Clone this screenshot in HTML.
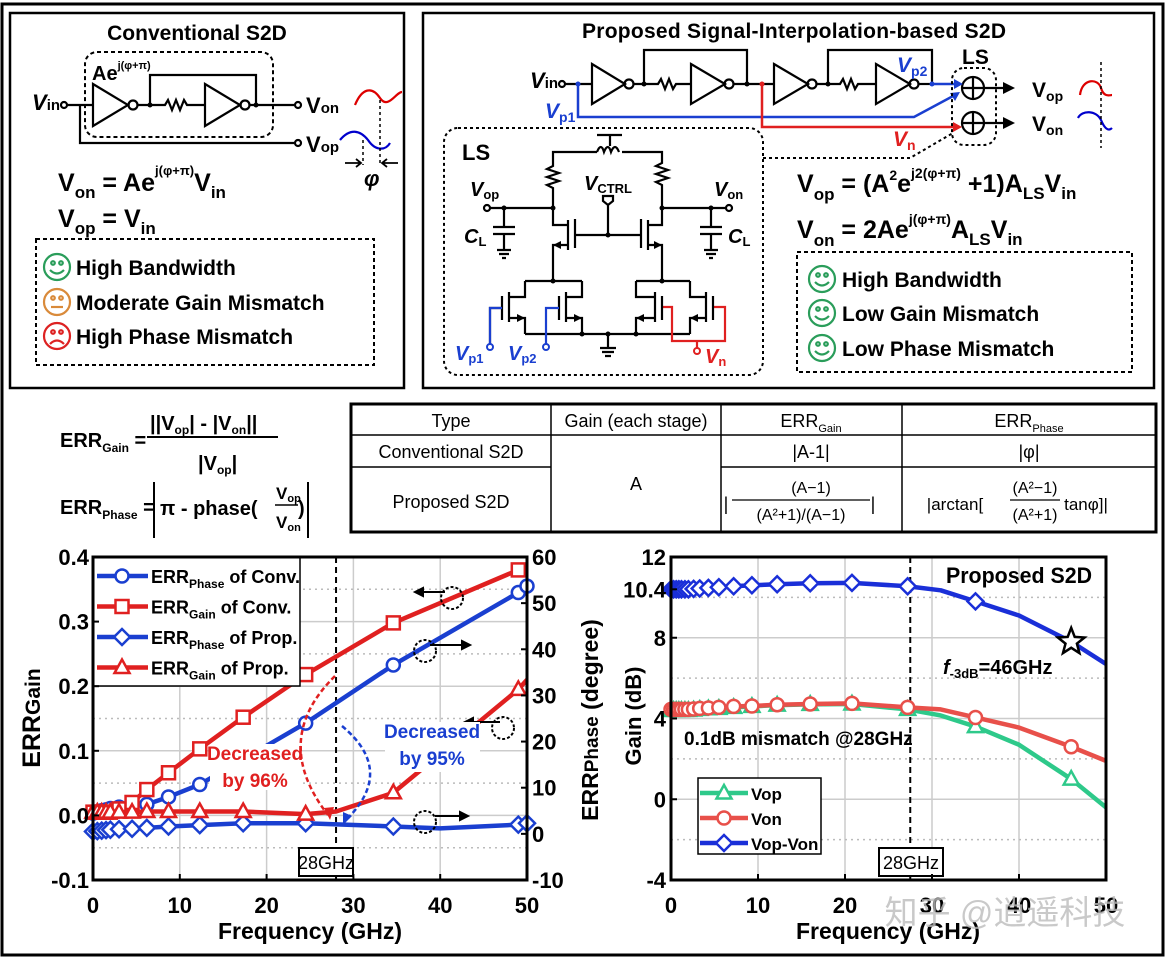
<!DOCTYPE html>
<html><head><meta charset="utf-8"><style>
html,body{margin:0;padding:0;background:#fff}
svg{display:block}
text{font-family:"Liberation Sans","Noto Sans CJK SC",sans-serif;font-weight:bold}
</style></head><body>
<svg id="fig" width="1166" height="961" viewBox="0 0 1166 961">
<rect width="1166" height="961" fill="#fff"/>
<rect x="2" y="4" width="1161" height="951" fill="none" stroke="#000" stroke-width="3"/>

<!-- ================= Conventional S2D ================= -->
<g>
<rect x="10" y="13" width="394" height="375" fill="none" stroke="#000" stroke-width="2.5"/>
<text x="197" y="40" font-size="21" text-anchor="middle">Conventional S2D</text>
<rect x="85" y="52" width="188" height="85" rx="12" fill="none" stroke="#000" stroke-width="2" stroke-dasharray="4,3"/>
<text x="92" y="80" font-size="20">Ae<tspan font-size="11" dy="-11">j(φ+π)</tspan></text>
<text x="32" y="110" font-size="22" font-style="italic">V<tspan font-size="15" font-style="normal">in</tspan></text>
<g fill="none" stroke="#000" stroke-width="2.2">
<circle cx="64" cy="105" r="3"/>
<path d="M67,105 H93 M80,105 V143 H294"/>
<polygon points="93,84 128,105 93,126"/>
<circle cx="133" cy="105" r="4.5"/>
<path d="M138,105 H165 l3,-5 l4,10 l4,-10 l4,10 l4,-10 l3,5 H205"/>
<polygon points="205,84 240,105 205,126"/>
<circle cx="245" cy="105" r="4.5"/>
<path d="M250,105 H294 M150,105 V75 H256 V105"/>
<circle cx="298" cy="105" r="3"/><circle cx="298" cy="143" r="3"/>
</g>
<circle cx="150" cy="105" r="2.5"/><circle cx="256" cy="105" r="2.5"/>
<text x="306" y="113" font-size="22">V<tspan font-size="15">on</tspan></text>
<text x="306" y="152" font-size="22">V<tspan font-size="15">op</tspan></text>
<path d="M355,105 C362,88 372,86 380,98 C388,110 396,92 402,92" fill="none" stroke="#d00" stroke-width="2.2"/>
<path d="M340,140 C350,128 360,130 368,140 C376,152 386,150 390,143" fill="none" stroke="#00c" stroke-width="2.2"/>
<path d="M363,140 V165 M380,100 V165" stroke="#000" stroke-width="1.5" stroke-dasharray="3,3"/>
<path d="M345,163 H360 M356,159 L361,163 L356,167 M398,163 H383 M387,159 L382,163 L387,167" stroke="#000" stroke-width="1.8" fill="none"/>
<text x="364" y="186" font-size="22" font-style="italic">φ</text>
<text x="58" y="191" font-size="25">V<tspan font-size="17" dy="7">on</tspan><tspan dy="-7"> = Ae</tspan><tspan font-size="13" dy="-16">j(φ+π)</tspan><tspan dy="16">V</tspan><tspan font-size="17" dy="7">in</tspan></text>
<text x="58" y="227" font-size="25">V<tspan font-size="17" dy="7">op</tspan><tspan dy="-7"> = V</tspan><tspan font-size="17" dy="7">in</tspan></text>
<rect x="36" y="239" width="338" height="126" fill="none" stroke="#000" stroke-width="2" stroke-dasharray="4,3"/>
<g stroke-width="2.2" fill="none">
<g stroke="#2a9d5a" transform="translate(57,267)"><circle r="13"/><circle cx="-4" cy="-4" r="1.8"/><circle cx="4" cy="-4" r="1.8"/><path d="M-7,3 Q0,10 7,3"/></g>
<g stroke="#d98a3a" transform="translate(57,302)"><circle r="13"/><circle cx="-4" cy="-4" r="1.8"/><circle cx="4" cy="-4" r="1.8"/><path d="M-6,5 H6"/></g>
<g stroke="#d22" transform="translate(57,336)"><circle r="13"/><circle cx="-4" cy="-4" r="1.8"/><circle cx="4" cy="-4" r="1.8"/><path d="M-7,8 Q0,1 7,8"/></g>
</g>
<text x="76" y="275" font-size="21">High Bandwidth</text>
<text x="76" y="310" font-size="21">Moderate Gain Mismatch</text>
<text x="76" y="344" font-size="21">High Phase Mismatch</text>
</g>

<!-- ================= Proposed S2D ================= -->
<g>
<rect x="423" y="13" width="731" height="375" fill="none" stroke="#000" stroke-width="2.5"/>
<text x="794" y="38" font-size="21" text-anchor="middle" textLength="424">Proposed Signal-Interpolation-based S2D</text>
<text x="530" y="88" font-size="22" font-style="italic">V<tspan font-size="15" font-style="normal">in</tspan></text>
<g fill="none" stroke="#000" stroke-width="2.2">
<circle cx="562" cy="84" r="3"/>
<path d="M565,84 H592"/>
<polygon points="592,64 625,84 592,104"/><circle cx="629" cy="84" r="4.5"/>
<path d="M634,84 H658 l3,-5 l4,10 l4,-10 l4,10 l3,-5 H691 M644,84 V50 H747 V84"/>
<polygon points="691,64 725,84 691,104"/><circle cx="729" cy="84" r="4.5"/>
<path d="M734,84 H774"/>
<polygon points="774,64 808,84 774,104"/><circle cx="812" cy="84" r="4.5"/>
<path d="M817,84 H840 l3,-5 l4,10 l4,-10 l4,10 l3,-5 H876 M828,84 V50 H932 V84"/>
<polygon points="876,64 910,84 876,104"/><circle cx="914" cy="84" r="4.5"/>
<path d="M919,84 H930"/>
<circle cx="973" cy="88" r="11"/><path d="M962,88 H984 M973,77 V99"/>
<circle cx="973" cy="123" r="11"/><path d="M962,123 H984 M973,112 V134"/>
<path d="M984,88 H1005 M984,123 H1005"/>
</g>
<path d="M1003,82 L1015,88 L1003,94Z M1003,117 L1015,123 L1003,129Z" fill="#000"/>
<circle cx="644" cy="84" r="2.5"/><circle cx="747" cy="84" r="2.5"/><circle cx="828" cy="84" r="2.5"/>
<path d="M930,84 H958" stroke="#1a3fd0" stroke-width="2.5" fill="none"/>
<path d="M954,79 L963,84 L954,89Z" fill="#1a3fd0"/>
<path d="M578,84 V117 H914 L955,95" stroke="#1a3fd0" stroke-width="2.5" fill="none"/>
<path d="M950,93 L960,92 L955,101Z" fill="#1a3fd0"/>
<circle cx="578" cy="84" r="2.5" fill="#1a3fd0"/><circle cx="932" cy="84" r="2.5" fill="#1a3fd0"/>
<path d="M762,84 V127 H955" stroke="#e02020" stroke-width="2.5" fill="none"/>
<path d="M953,122 L962,127 L953,132Z" fill="#e02020"/>
<circle cx="762" cy="84" r="2.5" fill="#e02020"/>
<text x="545" y="118" font-size="21" font-style="italic" fill="#1a3fd0">V<tspan font-size="14" font-style="normal" dy="4">p1</tspan></text>
<text x="897" y="72" font-size="21" font-style="italic" fill="#1a3fd0">V<tspan font-size="14" font-style="normal" dy="4">p2</tspan></text>
<text x="893" y="146" font-size="21" font-style="italic" fill="#e02020">V<tspan font-size="14" font-style="normal" dy="4">n</tspan></text>
<rect x="952" y="68" width="44" height="77" rx="12" fill="none" stroke="#000" stroke-width="2" stroke-dasharray="3,3"/>
<text x="962" y="64" font-size="21">LS</text>
<text x="1032" y="97" font-size="21">V<tspan font-size="14" dy="4">op</tspan></text>
<text x="1032" y="131" font-size="21">V<tspan font-size="14" dy="4">on</tspan></text>
<path d="M1080,95 C1082,78 1098,78 1101,88 C1104,98 1110,95 1112,95" stroke="#d00" stroke-width="2.2" fill="none"/>
<path d="M1078,118 C1082,110 1096,110 1101,120 C1106,132 1110,130 1112,128" stroke="#00c" stroke-width="2.2" fill="none"/>
<path d="M1101,62 V148" stroke="#000" stroke-width="1.5" stroke-dasharray="3,3"/>

<!-- LS circuit -->
<rect x="444" y="128" width="319" height="247" rx="14" fill="none" stroke="#000" stroke-width="2" stroke-dasharray="3,3"/>
<path d="M763,158 H910 L953,133" stroke="#000" stroke-width="2" stroke-dasharray="3,3" fill="none"/>
<text x="462" y="160" font-size="22">LS</text>
<g fill="none" stroke="#000" stroke-width="2.2">
<path d="M553,208 V188 l-6,-3 l12,-4 l-12,-4 l12,-4 l-12,-4 l6,-3 V152 H597 M622,152 H662 V163 l-6,3 l12,4 l-12,4 l12,4 l-12,4 l6,3 V208"/>
<path d="M597,152 q4,-10 7,0 q4,-10 7,0 q4,-10 8,0 M610,146 V136 M597,135 H622"/>
<circle cx="487" cy="208" r="3"/><circle cx="729" cy="208" r="3"/>
<path d="M490,208 H553 M662,208 H726 M504,208 V227 M493,227 H515 M493,234 H515 M504,234 V250 M497,250 H511 M499,254 H509 M502,258 H506"/>
<path d="M711,208 V227 M700,227 H722 M700,234 H722 M711,234 V250 M704,250 H718 M706,254 H716 M709,258 H713"/>
<path d="M553,208 V225 H568 M568,220 V250 M575,219 V248 M575,235 H641 M641,219 V248 M648,220 V250 M648,225 H662 V208 M568,245 H553 V281 M648,245 H662 V281"/>
<path d="M608,235 V204 M603,196 H613 V201 L608,205 L603,201Z"/>
<path d="M525,281 H582 M525,281 V297 H509 M509,292 V322 M502,296 V320 M502,308 H490 V344 M509,318 H525 V334 M582,281 V297 H566 M566,292 V322 M559,296 V320 M566,318 H582 V334"/>
<path d="M636,281 H690 M636,281 V297 H655 M655,292 V322 M636,334 V318 H655 M690,281 V297 H706 M706,292 V322 M706,318 H690 V334 M525,334 H690 M608,334 V348 M600,348 H616 M602,352 H614 M605,356 H611"/>
</g>
<path d="M553,245 l8,-4 v8z M662,245 l-8,-4 v8z M525,318 l-8,-4 v8z M582,318 l-8,-4 v8z M636,318 l8,-4 v8z M690,318 l8,-4 v8z" fill="#000"/>
<g fill="#000"><circle cx="553" cy="208" r="2.5"/><circle cx="662" cy="208" r="2.5"/><circle cx="504" cy="208" r="2.5"/><circle cx="711" cy="208" r="2.5"/><circle cx="608" cy="235" r="2.5"/><circle cx="553" cy="281" r="2.5"/><circle cx="662" cy="281" r="2.5"/><circle cx="582" cy="334" r="2.5"/><circle cx="608" cy="334" r="2.5"/><circle cx="636" cy="334" r="2.5"/></g>
<path d="M502,308 H490 V344" stroke="#1a3fd0" stroke-width="2.2" fill="none"/>
<path d="M559,308 H546 V344" stroke="#1a3fd0" stroke-width="2.2" fill="none"/>
<circle cx="490" cy="347" r="3" fill="#fff" stroke="#1a3fd0" stroke-width="2"/>
<circle cx="546" cy="347" r="3" fill="#fff" stroke="#1a3fd0" stroke-width="2"/>
<path d="M662,307 H672 V341 H725 V307 H713 M697,341 V348" stroke="#e02020" stroke-width="2.2" fill="none"/>
<path d="M662,296 V320 M713,296 V320" stroke="#000" stroke-width="2.2"/>
<circle cx="697" cy="351" r="3" fill="#fff" stroke="#e02020" stroke-width="2"/>
<text x="470" y="196" font-size="20" font-style="italic">V<tspan font-size="13" font-style="normal" dy="3">op</tspan></text>
<text x="714" y="196" font-size="20" font-style="italic">V<tspan font-size="13" font-style="normal" dy="3">on</tspan></text>
<text x="584" y="190" font-size="20" font-style="italic">V<tspan font-size="13" font-style="normal" dy="3">CTRL</tspan></text>
<text x="464" y="243" font-size="20" font-style="italic">C<tspan font-size="13" font-style="normal" dy="3">L</tspan></text>
<text x="728" y="243" font-size="20" font-style="italic">C<tspan font-size="13" font-style="normal" dy="3">L</tspan></text>
<text x="455" y="360" font-size="20" font-style="italic" fill="#1a3fd0">V<tspan font-size="13" font-style="normal" dy="3">p1</tspan></text>
<text x="508" y="360" font-size="20" font-style="italic" fill="#1a3fd0">V<tspan font-size="13" font-style="normal" dy="3">p2</tspan></text>
<text x="705" y="363" font-size="20" font-style="italic" fill="#e02020">V<tspan font-size="13" font-style="normal" dy="3">n</tspan></text>

<text x="797" y="192" font-size="25">V<tspan font-size="17" dy="8">op</tspan><tspan dy="-8"> = (A</tspan><tspan font-size="14" dy="-12">2</tspan><tspan dy="12">e</tspan><tspan font-size="14" dy="-14">j2(φ+π)</tspan><tspan dy="14"> +1)A</tspan><tspan font-size="17" dy="7">LS</tspan><tspan dy="-7">V</tspan><tspan font-size="17" dy="7">in</tspan></text>
<text x="797" y="238" font-size="25">V<tspan font-size="17" dy="8">on</tspan><tspan dy="-8"> = 2Ae</tspan><tspan font-size="14" dy="-14">j(φ+π)</tspan><tspan dy="14">A</tspan><tspan font-size="17" dy="7">LS</tspan><tspan dy="-7">V</tspan><tspan font-size="17" dy="7">in</tspan></text>
<rect x="797" y="252" width="335" height="120" fill="none" stroke="#000" stroke-width="2" stroke-dasharray="4,3"/>
<g stroke="#2a9d5a" stroke-width="2.2" fill="none">
<g transform="translate(822,279)"><circle r="13"/><circle cx="-4" cy="-4" r="1.8"/><circle cx="4" cy="-4" r="1.8"/><path d="M-7,3 Q0,10 7,3"/></g>
<g transform="translate(822,313)"><circle r="13"/><circle cx="-4" cy="-4" r="1.8"/><circle cx="4" cy="-4" r="1.8"/><path d="M-7,3 Q0,10 7,3"/></g>
<g transform="translate(822,348)"><circle r="13"/><circle cx="-4" cy="-4" r="1.8"/><circle cx="4" cy="-4" r="1.8"/><path d="M-7,3 Q0,10 7,3"/></g>
</g>
<text x="842" y="287" font-size="21">High Bandwidth</text>
<text x="842" y="321" font-size="21">Low Gain Mismatch</text>
<text x="842" y="356" font-size="21">Low Phase Mismatch</text>
</g>

<!-- ================= ERR formulas ================= -->
<g font-size="20">
<text x="60" y="447">ERR<tspan font-size="12" dy="5">Gain</tspan><tspan dy="-5"> =</tspan></text>
<text x="150" y="430">||V<tspan font-size="12" dy="4">op</tspan><tspan dy="-4">| - |V</tspan><tspan font-size="12" dy="4">on</tspan><tspan dy="-4">||</tspan></text>
<path d="M147,437 H278" stroke="#000" stroke-width="2"/>
<text x="198" y="470">|V<tspan font-size="12" dy="4">op</tspan><tspan dy="-4">|</tspan></text>
<text x="60" y="514">ERR<tspan font-size="12" dy="5">Phase</tspan><tspan dy="-5"> =</tspan></text>
<path d="M154,482 V538 M308,482 V538" stroke="#000" stroke-width="2"/>
<text x="160" y="515">π - phase(</text>
<text x="276" y="499" font-size="17">V<tspan font-size="11" dy="3">op</tspan></text>
<path d="M275,505 H298" stroke="#000" stroke-width="1.5"/>
<text x="276" y="528" font-size="17">V<tspan font-size="11" dy="3">on</tspan></text>
<text x="298" y="515">)</text>
</g>

<!-- ================= Table ================= -->
<g>
<rect x="351" y="404" width="805" height="128" fill="none" stroke="#000" stroke-width="3"/>
<path d="M351,435 H1156 M351,467 H551 M721,467 H1156 M551,404 V532 M721,404 V532 M902,404 V532" stroke="#000" stroke-width="1.5"/>
<g font-size="18" text-anchor="middle">
<text x="451" y="427" style="font-weight:normal">Type</text>
<text x="636" y="427" style="font-weight:normal">Gain (each stage)</text>
<text x="811" y="427" style="font-weight:normal">ERR<tspan font-size="11" dy="5">Gain</tspan></text>
<text x="1029" y="427" style="font-weight:normal">ERR<tspan font-size="11" dy="5">Phase</tspan></text>
<text x="451" y="458" style="font-weight:normal">Conventional S2D</text>
<text x="811" y="458" style="font-weight:normal">|A-1|</text>
<text x="1029" y="458" style="font-weight:normal">|φ|</text>
<text x="451" y="508" style="font-weight:normal">Proposed S2D</text>
<text x="636" y="490" style="font-weight:normal">A</text>
<text x="811" y="493" font-size="16" style="font-weight:normal">(A−1)</text>
<path d="M732,500 H870" stroke="#000" stroke-width="1.2"/>
<text x="726" y="510" style="font-weight:normal">|</text><text x="873" y="510" style="font-weight:normal">|</text>
<text x="801" y="520" font-size="16" style="font-weight:normal">(A²+1)/(A−1)</text>
<text x="955" y="510" font-size="17" style="font-weight:normal">|arctan[</text>
<text x="1035" y="493" font-size="16" style="font-weight:normal">(A²−1)</text>
<path d="M1010,500 H1060" stroke="#000" stroke-width="1.2"/>
<text x="1035" y="520" font-size="16" style="font-weight:normal">(A²+1)</text>
<text x="1086" y="510" font-size="17" style="font-weight:normal">tanφ]|</text>
</g>
</g>

<g id="leftChart"></g>
<g id="rightChart"></g>

<text x="1005" y="924" font-size="33" fill="#bbb" fill-opacity="0.8" text-anchor="middle" style="font-weight:normal">知乎 @逍遥科技</text>
</svg>

<script>
// ---------- Left chart data ----------
const convGainX = [0,0.5,1,1.5,2,3,4.5,6.2,8.7,12.3,17.3,24.5,34.6,49,50];
const convGainY = [0.005,0.005,0.005,0.005,0.005,0.01,0.02,0.04,0.066,0.103,0.152,0.218,0.298,0.38,0.385];
const convPhaseX = [0,0.5,1,1.5,2,3,6.2,8.7,12.3,24.5,34.6,49,50];
const convPhaseDeg = [4.5,4.8,5,5.2,5.5,5.8,6.4,8,10.7,24,36.6,52.3,53.7];
const propGainX = [0,0.5,1,1.5,2,3,4.5,6.2,8.7,12.3,17.3,24.5,28,34.6,49,50];
const propGainY = [0.005,0.005,0.005,0.005,0.005,0.005,0.005,0.006,0.006,0.006,0.006,0.002,0.006,0.035,0.195,0.21];
const propPhaseX = [0,0.5,1,1.5,2,3,4.5,6.2,8.7,12.3,17.3,24.5,34.6,40,49,50];
const propPhaseDeg = [0.5,0.6,0.7,0.8,0.9,1,1.1,1.3,1.6,1.9,2.3,2.3,1.6,1.2,2.0,2.3];
const leftTicks = ["0.4","0.3","0.2","0.1","0.0","-0.1"];
const rightTicks = ["60","50","40","30","20","10","0","-10"];
const xTicks = ["0","10","20","30","40","50"];
// ---------- Right chart data ----------
const gainX = [0,0.3,0.6,0.9,1.2,1.6,2,2.6,3.3,4.3,5.5,7.2,9.3,12.2,16,20.8,27.2,31,35,40,46,50];
const gainVopVon = [10.4,10.4,10.4,10.4,10.4,10.4,10.4,10.42,10.44,10.47,10.5,10.55,10.6,10.65,10.7,10.72,10.55,10.35,9.8,9.1,7.8,6.7];
const gainVon = [4.45,4.45,4.45,4.45,4.45,4.45,4.45,4.47,4.5,4.52,4.55,4.6,4.62,4.68,4.72,4.75,4.55,4.45,4.05,3.55,2.6,1.9];
const gainVop = [4.4,4.4,4.4,4.4,4.4,4.4,4.4,4.42,4.45,4.48,4.5,4.55,4.6,4.66,4.7,4.72,4.45,4.15,3.6,2.7,1.0,-0.4];
const markerSkip = [31,40,50];
const gainTicks = ["12","10.4","8","4","0","-4"];
const gainTickVals = [12,10.4,8,4,0,-4];

const NS = "http://www.w3.org/2000/svg";
function mk(parent, tag, attrs, txt){
  const e = document.createElementNS(NS, tag);
  for (const k in attrs) e.setAttribute(k, attrs[k]);
  if (txt !== undefined) e.textContent = txt;
  parent.appendChild(e);
  return e;
}
function marker(g, kind, x, y, color){
  let e;
  if (kind === "circle") e = mk(g, "circle", {cx:x, cy:y, r:6.5});
  else if (kind === "square") e = mk(g, "rect", {x:x-6.5, y:y-6.5, width:13, height:13});
  else if (kind === "diamond") e = mk(g, "polygon", {points:`${x},${y-8} ${x+8},${y} ${x},${y+8} ${x-8},${y}`});
  else e = mk(g, "polygon", {points:`${x},${y-8} ${x+7.5},${y+5.5} ${x-7.5},${y+5.5}`});
  e.setAttribute("fill", "#fff"); e.setAttribute("stroke", color); e.setAttribute("stroke-width", "2.5");
  
  
  return e;
}
function series(g, xs, ys, xf, yf, color, kind, name, skip){
  const pts = xs.map((v,i)=>xf(v)+","+yf(ys[i])).join(" ");
  const pl = mk(g, "polyline", {points:pts, fill:"none", stroke:color, "stroke-width":4.5, "stroke-linejoin":"round"});
  
  
  xs.forEach((v,i)=>{ if (!(skip||[]).includes(v)) marker(g, kind, xf(v), yf(ys[i]), color); });
}

// ---------- LEFT CHART ----------
(function(){
  const g = document.getElementById("leftChart");
  const L=93, R=527, T=557, B=880;
  const X = v => L + v/50*(R-L);
  const YL = v => T + (0.4 - v)/0.5*(B-T);
  const YR = d => T + (60 - d)/70*(B-T);
  for (let i=1;i<5;i++) mk(g,"line",{x1:X(i*10),x2:X(i*10),y1:T,y2:B,stroke:"#ccc","stroke-width":1.5});
  for (let i=0;i<leftTicks.length;i++){ const v = parseFloat(leftTicks[i]); mk(g,"line",{x1:L,x2:R,y1:YL(v),y2:YL(v),stroke:"#ccc","stroke-width":1.5}); if(v>-0.1) mk(g,"line",{x1:L,x2:R,y1:YL(v-0.05),y2:YL(v-0.05),stroke:"#bbb","stroke-width":1.5,"stroke-dasharray":"2,4"}); }
  mk(g,"line",{x1:X(28),x2:X(28),y1:T,y2:B,stroke:"#000","stroke-width":2,"stroke-dasharray":"6,4"});
  const lab = mk(g,"g",{});
   
  mk(lab,"rect",{x:299,y:848,width:54,height:28,fill:"#fff",stroke:"#000","stroke-width":2});
  mk(lab,"text",{x:326,y:869,"font-size":18,"text-anchor":"middle",style:"font-weight:normal"},"28GHz");
  series(g, convPhaseX, convPhaseDeg, X, YR, "#1a3fd0", "circle", "conv-phase-line");
  series(g, propPhaseX, propPhaseDeg, X, YR, "#1a3fd0", "diamond", "prop-phase-line", [40]);
  series(g, convGainX, convGainY, X, YL, "#e02020", "square", "conv-gain-line", [50]);
  series(g, propGainX, propGainY, X, YL, "#e02020", "triangle", "prop-gain-line", [28,50]);
  const ann = mk(g,"g",{fill:"none",stroke:"#000","stroke-width":2});
   
  [[452,598,445,415],[425,651,430,470],[503,728,500,465],[425,822,435,468]].forEach(a=>{
    mk(ann,"ellipse",{cx:a[0],cy:a[1],rx:11,ry:11,"stroke-dasharray":"3,2"});
    mk(ann,"line",{x1:a[2],x2:a[3],y1:a[1]-6,y2:a[1]-6});
    const d = a[3]>a[2]?1:-1;
    mk(ann,"path",{d:`M${a[3]},${a[1]-6} l${-8*d},-4 v8z`,fill:"#000"});
  });
  mk(g,"path",{d:"M335,676 Q270,740 328,815",fill:"none",stroke:"#e02020","stroke-width":2.5,"stroke-dasharray":"5,3"});
  mk(g,"path",{d:"M324,808 l6,12 l4,-13z",fill:"#e02020"});
  mk(g,"path",{d:"M342,726 Q395,770 348,818",fill:"none",stroke:"#1a3fd0","stroke-width":2.5,"stroke-dasharray":"5,3"});
  mk(g,"path",{d:"M343,812 l0,13 l9,-9z",fill:"#1a3fd0"});
  mk(g,"rect",{x:210,y:744,width:90,height:46,fill:"#fff"});
  mk(g,"rect",{x:385,y:722,width:95,height:50,fill:"#fff"});
  const t1 = mk(g,"text",{x:255,y:760,"font-size":19,"text-anchor":"middle",fill:"#e02020"},"Decreased");
   
  mk(g,"text",{x:255,y:787,"font-size":19,"text-anchor":"middle",fill:"#e02020"},"by 96%");
  const t2 = mk(g,"text",{x:432,y:738,"font-size":19,"text-anchor":"middle",fill:"#1a3fd0"},"Decreased");
   
  mk(g,"text",{x:432,y:765,"font-size":19,"text-anchor":"middle",fill:"#1a3fd0"},"by 95%");
  const lg = mk(g,"g",{});
   
  mk(lg,"rect",{x:L,y:T,width:207,height:129,fill:"#fff",stroke:"#000","stroke-width":1.5});
  const legs = [["circle","#1a3fd0","Phase","of Conv."],["square","#e02020","Gain","of Conv."],["diamond","#1a3fd0","Phase","of Prop."],["triangle","#e02020","Gain","of Prop."]];
  legs.forEach((l,i)=>{
    const y = 576 + i*30.5;
    mk(lg,"line",{x1:97,x2:148,y1:y,y2:y,stroke:l[1],"stroke-width":4.5});
    marker(lg,l[0],122,y,l[1]);
    const t = mk(lg,"text",{x:151,y:y+7,"font-size":18});
     
    t.innerHTML = `ERR<tspan font-size="12" dy="5">${l[2]}</tspan><tspan dy="-5"> ${l[3]}</tspan>`;
  });
  mk(g,"rect",{x:L,y:T,width:R-L,height:B-T,fill:"none",stroke:"#000","stroke-width":3});
  leftTicks.forEach(s=>{ const y=YL(parseFloat(s)); mk(g,"line",{x1:L,x2:L+6,y1:y,y2:y,stroke:"#000","stroke-width":2}); const t=mk(g,"text",{x:L-4,y:y+8,"font-size":22,"text-anchor":"end"},s);  });
  rightTicks.forEach(s=>{ const y=YR(parseFloat(s)); mk(g,"line",{x1:R-6,x2:R,y1:y,y2:y,stroke:"#000","stroke-width":2}); const t=mk(g,"text",{x:R+5,y:y+8,"font-size":22},s);  });
  xTicks.forEach(s=>{ const x=X(parseFloat(s)); mk(g,"line",{x1:x,x2:x,y1:B-6,y2:B,stroke:"#000","stroke-width":2}); const t=mk(g,"text",{x:x,y:B+33,"font-size":22,"text-anchor":"middle"},s);  });
  const xl = mk(g,"text",{x:310,y:939,"font-size":23,"text-anchor":"middle"},"Frequency (GHz)");
   
  const yl = mk(g,"text",{transform:"translate(40,718) rotate(-90)","font-size":25,"text-anchor":"middle"});
   
  yl.innerHTML = 'ERR<tspan font-size="21">Gain</tspan>';
  const y2 = mk(g,"text",{transform:"translate(598,720) rotate(-90)","font-size":23,"text-anchor":"middle"});
   
  y2.innerHTML = 'ERR<tspan font-size="19">Phase</tspan> (degree)';
})();

// ---------- RIGHT CHART ----------
(function(){
  const g = document.getElementById("rightChart");
  const L=671, R=1106, T=557, B=880;
  const X = v => L + v/50*(R-L);
  const Y = v => T + (12 - v)/16*(B-T);
  for (let i=1;i<5;i++) mk(g,"line",{x1:X(i*10),x2:X(i*10),y1:T,y2:B,stroke:"#ccc","stroke-width":1.5});
  [8,4,0].forEach(v=>mk(g,"line",{x1:L,x2:R,y1:Y(v),y2:Y(v),stroke:"#ccc","stroke-width":1.5}));
  [10,6,2,-2].forEach(v=>mk(g,"line",{x1:L,x2:R,y1:Y(v),y2:Y(v),stroke:"#bbb","stroke-width":1.5,"stroke-dasharray":"2,4"}));
  mk(g,"line",{x1:X(27.5),x2:X(27.5),y1:T,y2:B,stroke:"#000","stroke-width":2,"stroke-dasharray":"6,4"});
  const lab = mk(g,"g",{});
   
  mk(lab,"rect",{x:879,y:848,width:64,height:28,fill:"#fff",stroke:"#000","stroke-width":2});
  mk(lab,"text",{x:911,y:869,"font-size":18,"text-anchor":"middle",style:"font-weight:normal"},"28GHz");
  series(g, gainX, gainVop, X, Y, "#2ec98a", "triangle", "vop-line", markerSkip);
  series(g, gainX, gainVon, X, Y, "#e8504a", "circle", "von-line", markerSkip);
  series(g, gainX, gainVopVon, X, Y, "#1a2fd8", "diamond", "vop-von-line", markerSkip.concat([46]));
  const sx = X(46), sy = Y(gainVopVon[gainX.indexOf(46)]);
  let sp = [];
  for (let k=0;k<10;k++){ const r = k%2?6:14; const a = -Math.PI/2 + k*Math.PI/5; sp.push((sx+r*Math.cos(a)).toFixed(1)+","+(sy+r*Math.sin(a)).toFixed(1)); }
  const star = mk(g,"polygon",{points:sp.join(" "),fill:"#fff",stroke:"#000","stroke-width":2.5});
   
  const ft = mk(g,"text",{x:943,y:674,"font-size":20});
   
  ft.innerHTML = '<tspan font-style="italic">f</tspan><tspan font-size="13" dy="4">-3dB</tspan><tspan dy="-4">=46GHz</tspan>';
  const pt = mk(g,"text",{x:946,y:583,"font-size":22,textLength:146,lengthAdjust:"spacingAndGlyphs"},"Proposed S2D");
   
  const mm = mk(g,"text",{x:684,y:745,"font-size":19},"0.1dB mismatch @28GHz");
   
  const lg = mk(g,"g",{});
   
  mk(lg,"rect",{x:698,y:778,width:123,height:76,fill:"#fff",stroke:"#000","stroke-width":1.5});
  [["triangle","#2ec98a","Vop"],["circle","#e8504a","Von"],["diamond","#1a2fd8","Vop-Von"]].forEach((l,i)=>{
    const y = 793 + i*25;
    mk(lg,"line",{x1:700,x2:748,y1:y,y2:y,stroke:l[1],"stroke-width":4.5});
    marker(lg,l[0],724,y,l[1]);
    const t = mk(lg,"text",{x:751,y:y+7,"font-size":17},l[2]);
     
  });
  mk(g,"rect",{x:L,y:T,width:R-L,height:B-T,fill:"none",stroke:"#000","stroke-width":3});
  gainTicks.forEach((s,i)=>{ const y=Y(gainTickVals[i]); mk(g,"line",{x1:L,x2:L+6,y1:y,y2:y,stroke:"#000","stroke-width":2}); const t=mk(g,"text",{x:L-5,y:y+8,"font-size":22,"text-anchor":"end"},s);  });
  xTicks.forEach(s=>{ const x=X(parseFloat(s)); mk(g,"line",{x1:x,x2:x,y1:B-6,y2:B,stroke:"#000","stroke-width":2}); const t=mk(g,"text",{x:x,y:B+33,"font-size":22,"text-anchor":"middle"},s);  });
  const xl = mk(g,"text",{x:888,y:939,"font-size":23,"text-anchor":"middle"},"Frequency (GHz)");
   
  const yl = mk(g,"text",{transform:"translate(641,716) rotate(-90)","font-size":22,"text-anchor":"middle"},"Gain (dB)");
   
})();
</script>
</body></html>
